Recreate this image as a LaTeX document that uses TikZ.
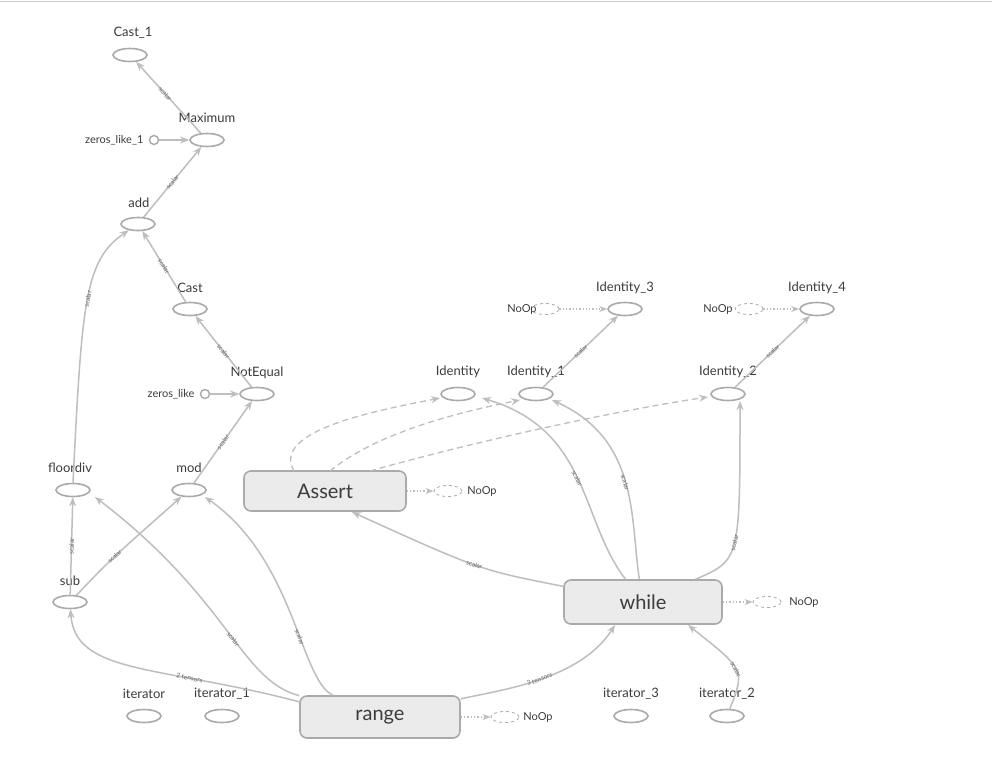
\documentclass[tikz,border=0pt]{standalone}
\usepackage{fontspec}
\setmainfont{Lato}
\usetikzlibrary{shapes.geometric,arrows.meta}
\definecolor{eg}{RGB}{190,190,190}
\definecolor{nb}{RGB}{170,170,170}
\definecolor{tx}{RGB}{60,60,60}
\begin{document}
\begin{tikzpicture}[x=1pt,y=-1pt,
  op/.style={ellipse,draw=nb,line width=1.6pt,fill=white,minimum width=34pt,minimum height=13pt,inner sep=0pt},
  cst/.style={circle,draw=nb,line width=1.4pt,fill=white,minimum size=9pt,inner sep=0pt},
  noop/.style={ellipse,draw=nb,dashed,line width=0.8pt,minimum width=28pt,minimum height=11pt,inner sep=0pt},
  big/.style={rectangle,rounded corners=7pt,draw=nb,line width=1.6pt,fill=black!8,text=tx,font=\fontsize{20}{22}\selectfont,inner sep=0pt},
  lab/.style={text=tx,font=\fontsize{13}{15}\selectfont},
  sl/.style={text=tx,font=\fontsize{11}{13}\selectfont},
  e/.style={draw=eg,line width=1.5pt,-{Stealth[length=9pt,width=7pt]}},
  ed/.style={e,dash pattern=on 6pt off 4pt,line width=1.3pt},
  eo/.style={draw=eg,line width=1.3pt,dotted,-{Stealth[length=8pt,width=6pt]}},
  el/.style={font=\fontsize{6.5}{7}\selectfont,text=black!60,sloped,inner sep=1pt}]
\useasboundingbox (0,0) rectangle (992,764);
\fill[white] (0,0) rectangle (992,764);
\draw[black!20,line width=1pt] (0,1) -- (992,1);
% nodes
\node[op] (cast1) at (130,55) {}; \node[lab] at (133,33) {Cast\_1};
\node[op] (max) at (207,140) {}; \node[lab] at (207,118) {Maximum};
\node[cst] (z1) at (154,140) {}; \node[sl,anchor=east] (z1l) at (147,140) {zeros\_like\_1};
\node[op] (add) at (138,224) {}; \node[lab] at (139,203) {add};
\node[op] (cast) at (190,309) {}; \node[lab] at (190,288) {Cast};
\node[op] (neq) at (257,394) {}; \node[lab] at (257,373) {NotEqual};
\node[cst] (z0) at (205,394) {}; \node[sl,anchor=east] (z0l) at (198,394) {zeros\_like};
\node[op] (fdiv) at (73,490) {}; \node[lab] at (70,468) {floordiv};
\node[op] (mod) at (189,490) {}; \node[lab] at (189,468) {mod};
\node[op] (sub) at (70,602) {}; \node[lab] at (70,581) {sub};
\node[op] (it0) at (144,716) {}; \node[lab] at (144,694) {iterator};
\node[op] (it1) at (222,716) {}; \node[lab] at (222,694) {iterator\_1};
\node[big,minimum width=160pt,minimum height=42pt] (range) at (380,717) {range};
\node[noop] (n1) at (505,717) {}; \node[sl] at (538,717) {NoOp};
\node[big,minimum width=162pt,minimum height=40pt] (assert) at (325,491) {Assert};
\node[noop] (n2) at (448,491) {}; \node[sl] at (482,491) {NoOp};
\node[big,minimum width=158pt,minimum height=44pt] (while) at (643,602) {while};
\node[noop] (n3) at (767,602) {}; \node[sl] at (804,602) {NoOp};
\node[op] (it3) at (631,716) {}; \node[lab] at (631,694) {iterator\_3};
\node[op] (it2) at (727,716) {}; \node[lab] at (727,694) {iterator\_2};
\node[op] (id) at (458,394) {}; \node[lab] at (458,372) {Identity};
\node[op] (id1) at (536,394) {}; \node[lab] at (536,372) {Identity\_1};
\node[op] (id2) at (728,394) {}; \node[lab] at (728,372) {Identity\_2};
\node[op] (id3) at (625,309) {}; \node[lab] at (625,288) {Identity\_3};
\node[noop] (n4) at (545,309) {}; \node[sl] at (522,309) {NoOp};
\node[op] (id4) at (817,309) {}; \node[lab] at (817,288) {Identity\_4};
\node[noop] (n5) at (749,309) {}; \node[sl] at (718,309) {NoOp};
% edges
\draw[e] (max) -- node[el,pos=0.55]{scalar} (cast1);
\draw[e] (z1) -- (max);
\draw[e] (add) -- node[el]{scalar} (max);
\draw[e] (cast) -- node[el]{scalar} (add);
\draw[e] (neq) -- node[el]{scalar} (cast);
\draw[e] (z0) -- (neq);
\draw[e] (mod) -- node[el]{scalar} (neq);
\draw[e] (fdiv.north) .. controls (82,300) and (85,260) .. node[el,pos=0.5]{scalar} (add);
\draw[e] (sub) -- node[el]{scalar} (fdiv);
\draw[e] (sub) .. controls (110,560) .. node[el]{scalar} (mod);
\draw[e] (300,702) .. controls (160,665) and (75,675) .. node[el,pos=0.3]{2 tensors} (sub);
\draw[e] (range) .. controls (240,680) and (230,600) .. node[el,pos=0.45]{scalar} (95,497);
\draw[e] (range) .. controls (300,680) and (295,560) .. node[el,pos=0.4]{scalar} (205,497);
\draw[e] (range) .. controls (500,690) and (580,680) .. node[el]{3 tensors} (615,625);
\draw[eo] (range) -- (n1);
\draw[e] (while) .. controls (480,570) .. node[el]{scalar} (352,512);
\draw[e] (while) .. controls (580,520) and (590,430) .. node[el]{scalar} (482,398);
\draw[e] (while) .. controls (630,520) and (640,440) .. node[el]{scalar} (552,400);
\draw[e] (while) .. controls (740,560) .. node[el]{scalar} (740,401);
\draw[e] (it2) .. controls (745,670) .. node[el]{scalar} (688,625);
\draw[eo] (while) -- (n3);
\draw[ed] (294,471) .. controls (270,430) and (380,410) .. (440,398);
\draw[ed] (330,471) .. controls (380,430) and (470,410) .. (520,400);
\draw[ed] (370,471) .. controls (480,440) and (620,410) .. (708,397);
\draw[eo] (assert) -- (n2);
\draw[e] (id1) -- node[el]{scalar} (id3);
\draw[e] (id2) -- node[el]{scalar} (id4);
\draw[eo] (n4) -- (id3);
\draw[eo] (n5) -- (id4);
\end{tikzpicture}
\end{document}
